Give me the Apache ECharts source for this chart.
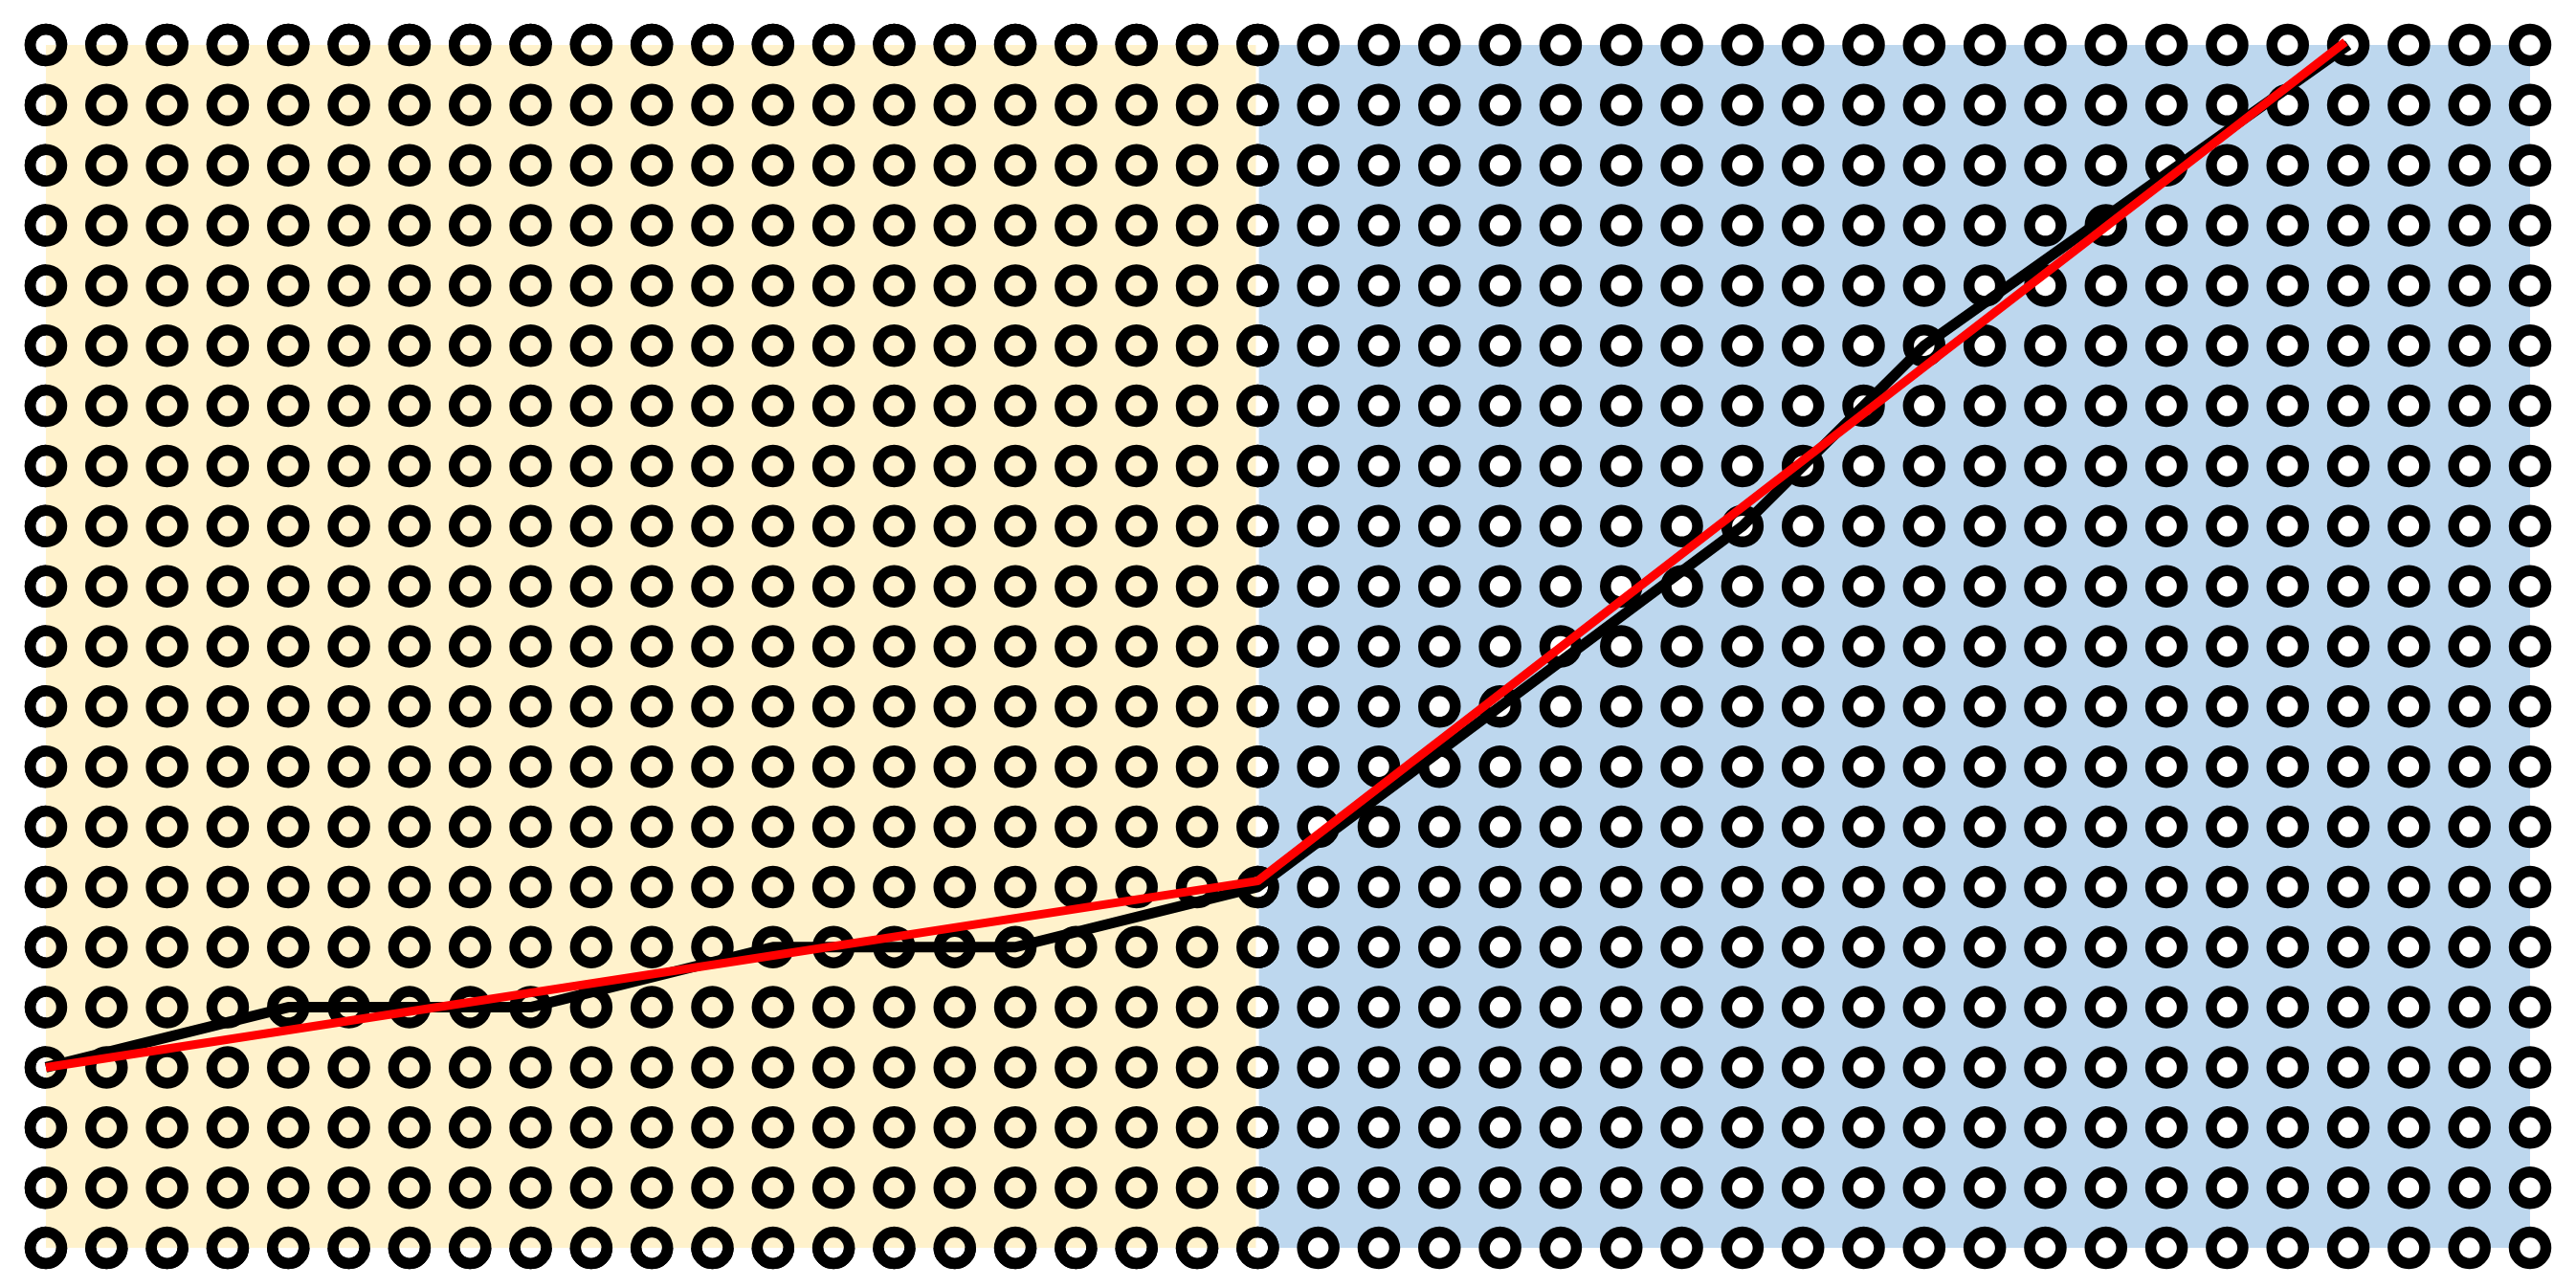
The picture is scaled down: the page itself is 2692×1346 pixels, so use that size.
<!DOCTYPE html>
<html>
<head>
<meta charset="utf-8">
<script src="https://cdn.jsdelivr.net/npm/echarts@6/dist/echarts.min.js"></script>
<style>
html,body{margin:0;padding:0;background:#fff;}
#chart{width:2692px;height:1346px;}
</style>
</head>
<body>
<div id="chart"></div>
<script>
// Grid of ring markers: column and row values
const gridCols = [0,1,2,3,4,5,6,7,8,9,10,11,12,13,14,15,16,17,18,19,20,21,22,23,24,25,26,27,28,29,30,31,32,33,34,35,36,37,38,39,40,41];
const gridRows = [0,1,2,3,4,5,6,7,8,9,10,11,12,13,14,15,16,17,18,19,20];
const leftLastCol = 20;

// Black series
const blackX = [0,4,8,12,16,20,24,28,30,31,38];
const blackY = [3,4,4,5,5,6,9,12,14,15,20];

// Red series
const redX = [0,20,37.95];
const redY = [3,6.1,20.05];

// Shaded regions (data space)
const yellowFrom = [-0.03, -0.06];
const yellowTo   = [19.97, 20.07];
const blueFrom   = [20.02, -0.06];
const blueTo     = [41, 20.07];

const allPts = [];
const leftPts = [];
gridCols.forEach(c => gridRows.forEach(r => {
  allPts.push([c, r]);
  if (c <= leftLastCol) leftPts.push([c, r]);
}));
const blackData = blackX.map((x, i) => [x, blackY[i]]);
const redData = redX.map((x, i) => [x, redY[i]]);

const chart = echarts.init(document.getElementById('chart'), null, {renderer: 'canvas'});
chart.setOption({
  animation: false,
  backgroundColor: '#ffffff',
  grid: {left: 48, right: 48, top: 47, bottom: 42, containLabel: false},
  xAxis: {type: 'value', min: 0, max: 41, show: false, splitLine: {show: false}},
  yAxis: {type: 'value', min: 0, max: 20, show: false, splitLine: {show: false}},
  series: [
    {
      type: 'line', data: [], z: 0, silent: true,
      markArea: {
        z: 0, silent: true,
        itemStyle: {color: '#BDD7EE', borderWidth: 0},
        data: [[{coord: blueFrom}, {coord: blueTo}]]
      }
    },
    {
      type: 'scatter', data: allPts, z: 2, clip: false, silent: true,
      symbol: 'circle', symbolSize: 33,
      itemStyle: {color: '#ffffff', borderColor: '#000000', borderWidth: 11.5, opacity: 1}
    },
    {
      type: 'line', data: [], z: 3, silent: true,
      markArea: {
        z: 3, silent: true,
        itemStyle: {color: '#FFF2CC', borderWidth: 0},
        data: [[{coord: yellowFrom}, {coord: yellowTo}]]
      }
    },
    {
      type: 'scatter', data: leftPts, z: 4, clip: false, silent: true,
      symbol: 'circle', symbolSize: 33,
      itemStyle: {color: 'rgba(0,0,0,0)', borderColor: '#000000', borderWidth: 11.5, opacity: 1}
    },
    {
      type: 'line', data: blackData, z: 5, clip: false, silent: true,
      symbol: 'none', lineStyle: {color: '#000000', width: 11}
    },
    {
      type: 'line', data: redData, z: 6, clip: false, silent: true,
      symbol: 'none', lineStyle: {color: '#FF0000', width: 9}
    }
  ]
});
</script>
</body>
</html>
